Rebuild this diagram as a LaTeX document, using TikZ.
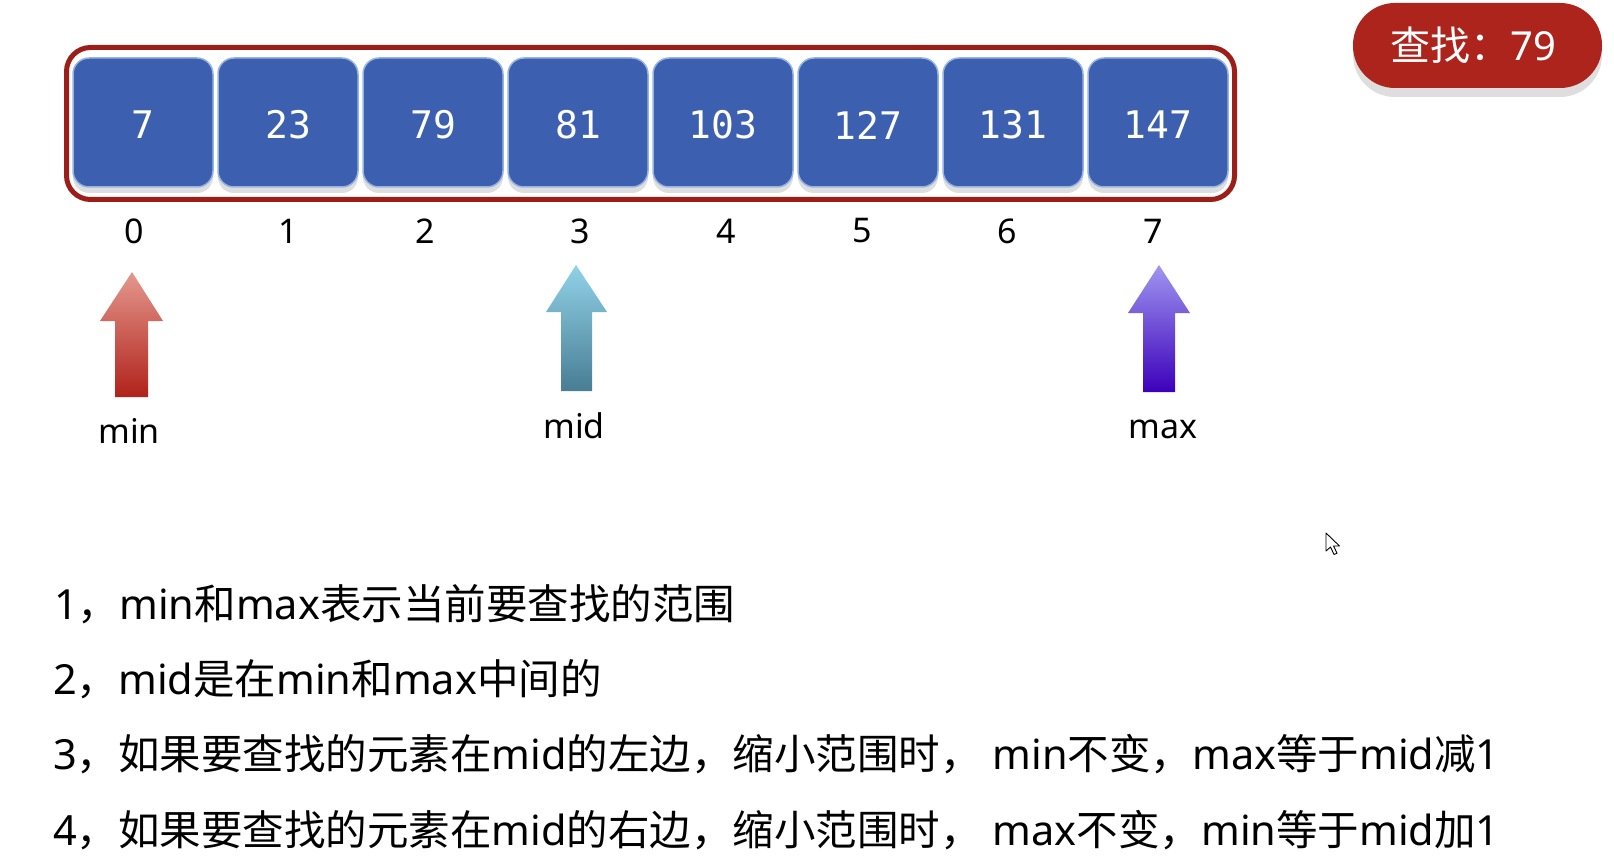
\documentclass[tikz,border=0pt]{standalone}
\usepackage{fontspec}
\setmainfont{Noto Sans}
\newfontfamily\cjk{Noto Sans CJK SC}
\newfontfamily\monof{DejaVu Sans Mono}
\usetikzlibrary{shadows}
\definecolor{boxblue}{RGB}{60,95,176}
\definecolor{boxedge}{RGB}{150,180,226}
\definecolor{framered}{RGB}{155,30,25}
\definecolor{pillred}{RGB}{172,36,28}
\definecolor{shadowgray}{RGB}{222,222,222}
\definecolor{minTop}{RGB}{228,152,142}
\definecolor{minBot}{RGB}{176,34,26}
\definecolor{midTop}{RGB}{145,210,232}
\definecolor{midBot}{RGB}{72,125,148}
\definecolor{maxTop}{RGB}{160,150,240}
\definecolor{maxBot}{RGB}{60,0,186}
\newcommand{\zh}[1]{{\cjk #1}}
\begin{document}
\begin{tikzpicture}[x=1pt,y=-1pt,
  valbox/.style={draw=boxedge, line width=1.5pt, fill=boxblue, rounded corners=16pt,
    minimum width=140pt, minimum height=129pt, inner sep=0pt,
    drop shadow={shadow xshift=0pt, shadow yshift=-6pt, fill=shadowgray, opacity=1}},
  valtext/.style={inner sep=0pt, text=white, font=\monof\fontsize{38}{40}\selectfont},
  idxlabel/.style={inner sep=0pt, font=\fontsize{34}{38}\selectfont},
  ptrlabel/.style={inner sep=0pt, anchor=base, font=\fontsize{34}{38}\selectfont},
  noteline/.style={inner sep=0pt, anchor=base west, font=\fontsize{41.5}{46}\selectfont}
]
\useasboundingbox (0,0) rectangle (1614,861);

% query pill
\node (query) [fill=pillred, rounded corners=42pt, minimum width=249pt, minimum height=85pt, inner sep=0pt,
  drop shadow={shadow xshift=0pt, shadow yshift=-9pt, fill=shadowgray, opacity=1}] at (1477.5,45.5) {};
\node (querytext) [inner sep=0pt, text=white, font=\fontsize{40}{44}\selectfont] at (1473,45) {\zh{查找：}79};

% frame
\draw[framered, line width=5pt, rounded corners=24pt] (66.5,47.5) rectangle (1234.5,199.5);

% value boxes
\foreach \v [count=\i from 0] in {7,23,79,81,103,127,131,147} {
  \node (b\i) [valbox] at (143+145*\i,122.5) {};
  \node (v\i) [valtext] at (143+145*\i,125) {\v};
}

% index labels
\node (i0) [idxlabel] at (134,231) {0};
\node (i1) [idxlabel] at (288,231) {1};
\node (i2) [idxlabel] at (425,231) {2};
\node (i3) [idxlabel] at (580,231) {3};
\node (i4) [idxlabel] at (726,231) {4};
\node (i5) [idxlabel] at (862,231) {5};
\node (i6) [idxlabel] at (1007,231) {6};
\node (i7) [idxlabel] at (1153,231) {7};

% pointer arrows
\shade[top color=minTop, bottom color=minBot] (132,272) -- (163,321) -- (148,321) -- (148,397) -- (115,397) -- (115,321) -- (100,321) -- cycle;
\shade[top color=midTop, bottom color=midBot] (576,265) -- (607,312) -- (592,312) -- (592,391) -- (561,391) -- (561,312) -- (546,312) -- cycle;
\shade[top color=maxTop, bottom color=maxBot] (1159,265) -- (1190,313) -- (1175,313) -- (1175,392) -- (1143,392) -- (1143,313) -- (1128,313) -- cycle;

\node (lmin) [ptrlabel] at (129,443) {min};
\node (lmid) [ptrlabel] at (574,438) {mid};
\node (lmax) [ptrlabel] at (1163,438) {max};

% mouse cursor
\draw[fill=white, line width=0.9pt, line join=round] (1326,533) -- (1326,551) -- (1330.5,547) -- (1334,554.5) -- (1337,553.2) -- (1333.6,546) -- (1339.5,546) -- cycle;

% notes
\node (n1) [noteline] at (54,619) {1\zh{，}min\zh{和}max\zh{表示当前要查找的范围}};
\node (n2) [noteline] at (53,694) {2\zh{，}mid\zh{是在}min\zh{和}max\zh{中间的}};
\node (n3) [noteline] at (53,769) {3\zh{，如果要查找的元素在}mid\zh{的左边，缩小范围时，} min\zh{不变，}max\zh{等于}mid\zh{减}1};
\node (n4) [noteline] at (53,845) {4\zh{，如果要查找的元素在}mid\zh{的右边，缩小范围时，} max\zh{不变，}min\zh{等于}mid\zh{加}1};
\end{tikzpicture}
\end{document}
